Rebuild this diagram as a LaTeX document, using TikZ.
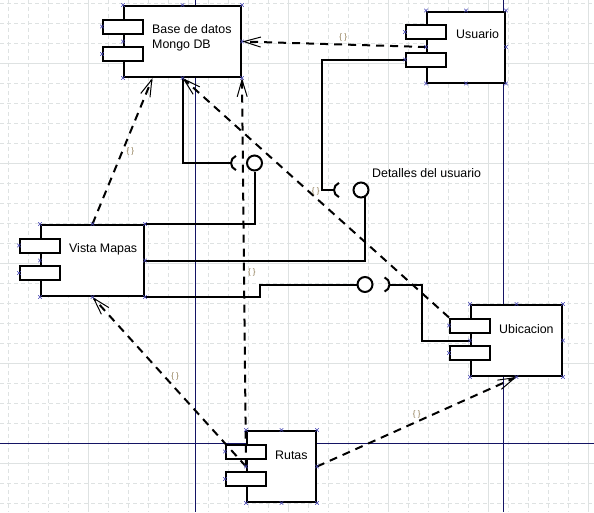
\documentclass[tikz,border=0pt]{standalone}
\usepackage{fontspec}
\setmainfont{Liberation Sans}
\usetikzlibrary{arrows.meta}
\definecolor{gridGray}{RGB}{222,226,226}
\definecolor{guideNavy}{RGB}{20,20,100}
\definecolor{markBlue}{RGB}{70,70,180}
\definecolor{tagTan}{RGB}{140,120,80}

\begin{document}
\begin{tikzpicture}[x=1pt, y=-1pt]
  \tikzstyle{comp} = [draw, fill=white, line width=2pt, minimum height=71pt, inner sep=0pt]
  \tikzstyle{port} = [draw, fill=white, line width=2pt, minimum width=40pt, minimum height=14pt, inner sep=0pt]
  \tikzstyle{ball} = [draw, fill=white, circle, line width=2pt, minimum size=15pt, inner sep=0pt]
  \tikzstyle{wire} = [line width=2pt]
  \tikzstyle{dep} = [line width=2pt, dash pattern=on 8pt off 6pt, -{Straight Barb[length=17pt, width=10pt, line width=1pt]}]
  \tikzstyle{tag} = [font=\fontsize{8}{9}\selectfont, text=tagTan, inner sep=1pt]
  \tikzstyle{txt} = [font=\fontsize{12.4}{15}\selectfont, anchor=west, inner sep=0pt, align=left]
  \useasboundingbox (0,0) rectangle (594,512);
  % grid
  \fill[white] (0,0) rectangle (594,512);
  \foreach \x in {8,28,...,588} \draw[gridGray, dash pattern=on 4pt off 3pt, line width=0.7pt] (\x,0) -- (\x,512);
  \foreach \y in {3,23,...,503} \draw[gridGray, dash pattern=on 4pt off 3pt, line width=0.7pt] (0,\y) -- (594,\y);
  \foreach \x in {88,188,...,588} \draw[gridGray, line width=1pt] (\x,0) -- (\x,512);
  \foreach \y in {63,163,...,463} \draw[gridGray, line width=1pt] (0,\y) -- (594,\y);
  \draw[guideNavy, line width=1pt] (195,0) -- (195,512) (503,0) -- (503,512) (0,443) -- (594,443);
  % components
  \node[comp, minimum width=117pt] (base) at (182.5,41.5) {};
  \node[comp, minimum width=78pt] (usuario) at (466,47) {};
  \node[comp, minimum width=103pt] (vista) at (92.5,260.5) {};
  \node[comp, minimum width=91pt] (ubic) at (516.5,340.5) {};
  \node[comp, minimum width=69pt] (rutas) at (281.5,466.5) {};
  \foreach \c in {base,usuario,vista,ubic,rutas} {
    \node[port] (\c-a) at ([yshift=-21.5pt]\c.north west) {};
    \node[port] (\c-b) at ([yshift=-49pt]\c.north west) {};
  }
  \node[txt] (base-t) at (152,37.5) {Base de datos\\Mongo DB};
  \node[txt] (usuario-t) at (456,34) {Usuario};
  \node[txt] (vista-t) at (69,249) {Vista Mapas};
  \node[txt] (ubic-t) at (499,329) {Ubicacion};
  \node[txt] (rutas-t) at (275,455) {Rutas};
  % interfaces
  \node[ball] (ballA) at (254.5,163) {};
  \node[ball] (ballB) at (361,190) {};
  \node[ball] (ballC) at (365,284.5) {};
  \node[txt] (ballB-t) at (372,173) {Detalles del usuario};
  \coordinate (sockA) at (231,163);
  \coordinate (sockB) at (334,190);
  \coordinate (sockC) at (389.5,284.5);
  \draw[wire] (sockA) arc (180:110:7.5pt) (sockA) arc (180:250:7.5pt);
  \draw[wire] (sockB) arc (180:110:7.5pt) (sockB) arc (180:250:7.5pt);
  \draw[wire] (sockC) arc (0:70:7.5pt) (sockC) arc (0:-70:7.5pt);
  \draw[wire] (base.south) |- (sockA);
  \draw[wire] (vista.north east) -| (ballA.south);
  \draw[wire] (usuario-b.west) -- ++(-83,0) |- (sockB);
  \draw[wire] (ballB.-60) |- (vista.east);
  \draw[wire] (vista.south east) -- ++(115,0) |- (ballC.west);
  \draw[wire] (ubic.west) -- ++(-48,0) |- (sockC);
  % dependencies
  \draw[dep] (usuario.west) -- node[tag, pos=0.45, above=1pt] (tag1) {\{\ \}} (base.east);
  \draw[dep] (vista.north) -- node[tag, right=2pt] (tag2) {\{\ \}} ([xshift=-30pt]base.south);
  \draw[dep] (ubic-a.north west) -- node[tag, above=1pt] (tag3) {\{\ \}} (base.south);
  \draw[dep] (rutas.west) -- node[tag, right=2pt] (tag4) {\{\ \}} (base.south east);
  \draw[dep] (rutas.west) -- node[tag, above right] (tag5) {\{\ \}} (vista.south);
  \draw[dep] (rutas.east) -- node[tag, above=2pt] (tag6) {\{\ \}} (ubic.south);
  % selection marks
  \foreach \c in {base,usuario,vista,ubic,rutas} {
    \foreach \a in {north west,north,north east,east,south east,south,south west,west} {
      \draw[markBlue, line width=0.5pt] ([xshift=-1.8pt,yshift=-1.8pt]\c.\a) -- ([xshift=1.8pt,yshift=1.8pt]\c.\a)
        ([xshift=-1.8pt,yshift=1.8pt]\c.\a) -- ([xshift=1.8pt,yshift=-1.8pt]\c.\a);
    }
    \foreach \p in {a,b} {
      \draw[markBlue, line width=0.5pt] ([xshift=-1.8pt,yshift=-1.8pt]\c-\p.west) -- ([xshift=1.8pt,yshift=1.8pt]\c-\p.west)
        ([xshift=-1.8pt,yshift=1.8pt]\c-\p.west) -- ([xshift=1.8pt,yshift=-1.8pt]\c-\p.west);
    }
  }
\end{tikzpicture}
\end{document}
